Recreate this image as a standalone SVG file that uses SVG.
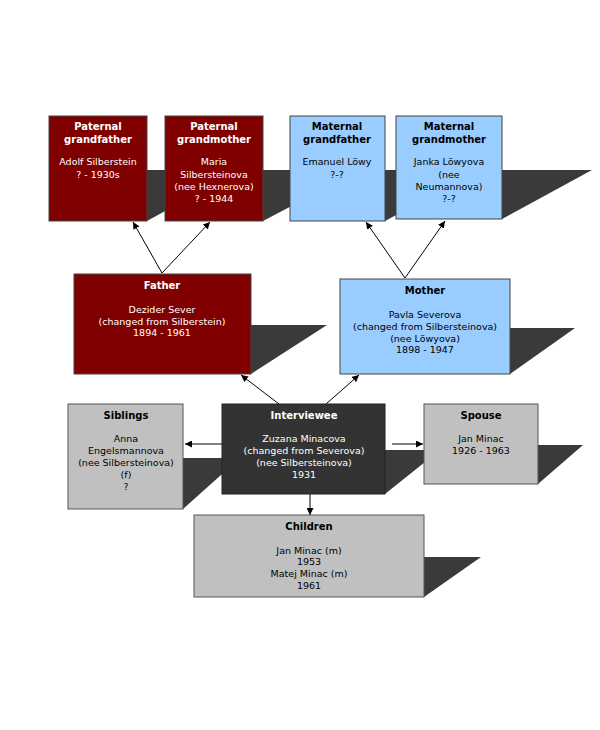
<svg xmlns="http://www.w3.org/2000/svg" width="600" height="730" viewBox="0 0 600 730">
<style>
text{font-family:"DejaVu Sans",Verdana,sans-serif;font-size:9.5px;text-anchor:middle}
.t{font-weight:bold;font-size:10px}
.w{fill:#fff}.k{fill:#000}
.red{fill:#800000;stroke:#444;stroke-width:1}
.blue{fill:#99ccff;stroke:#444;stroke-width:1}
.grey{fill:#c0c0c0;stroke:#555;stroke-width:1}
.dark{fill:#333;stroke:#222;stroke-width:1}
.sh{fill:#3a3a3a}
.c{stroke:#000;stroke-width:1;fill:none;marker-end:url(#a)}
</style>
<defs><marker id="a" viewBox="0 0 10 10" refX="10" refY="5" markerWidth="7" markerHeight="7" orient="auto"><path d="M0,0L10,5L0,10z" fill="#000"/></marker></defs>
<g id="shadows">
<polygon class="sh" points="147,170 240,170 147,221"/>
<polygon class="sh" points="263,170 360,170 263,221"/>
<polygon class="sh" points="385,170 480,170 385,221"/>
<polygon class="sh" points="502,170 592,170 502,219"/>
<polygon class="sh" points="251,325 327,325 251,374"/>
<polygon class="sh" points="510,328 575,328 510,374"/>
<polygon class="sh" points="183,458 240,458 183,509"/>
<polygon class="sh" points="385,450 440,450 385,494"/>
<polygon class="sh" points="538,445 583,445 538,484"/>
<polygon class="sh" points="424,557 481,557 424,597"/>
</g>
<g id="connectors">
<line class="c" x1="162" y1="273" x2="133" y2="222"/>
<line class="c" x1="162" y1="273" x2="210" y2="222"/>
<line class="c" x1="405" y1="278" x2="366" y2="222"/>
<line class="c" x1="405" y1="278" x2="445" y2="221"/>
<line class="c" x1="279" y1="404" x2="241" y2="375"/>
<line class="c" x1="326" y1="404" x2="359" y2="375"/>
<line class="c" x1="222" y1="444" x2="185" y2="444"/>
<line class="c" x1="392" y1="444" x2="423" y2="444"/>
<line class="c" x1="310" y1="494" x2="310" y2="515"/>
</g>
<g id="pgf"><rect class="red" x="49" y="116" width="98" height="105"/>
<text class="t w" x="98" y="130">Paternal</text><text class="t w" x="98" y="143">grandfather</text>
<text class="w" x="98" y="165">Adolf Silberstein</text><text class="w" x="98" y="178">? - 1930s</text></g>
<g id="pgm"><rect class="red" x="165" y="116" width="98" height="105"/>
<text class="t w" x="214" y="130">Paternal</text><text class="t w" x="214" y="143">grandmother</text>
<text class="w" x="214" y="165">Maria</text><text class="w" x="214" y="178">Silbersteinova</text><text class="w" x="214" y="190">(nee Hexnerova)</text><text class="w" x="214" y="202">? - 1944</text></g>
<g id="mgf"><rect class="blue" x="290" y="116" width="95" height="105"/>
<text class="t k" x="337" y="130">Maternal</text><text class="t k" x="337" y="143">grandfather</text>
<text class="k" x="337" y="165">Emanuel Löwy</text><text class="k" x="337" y="178">?-?</text></g>
<g id="mgm"><rect class="blue" x="396" y="116" width="106" height="103"/>
<text class="t k" x="449" y="130">Maternal</text><text class="t k" x="449" y="143">grandmother</text>
<text class="k" x="449" y="165">Janka Löwyova</text><text class="k" x="449" y="178">(nee</text><text class="k" x="449" y="190">Neumannova)</text><text class="k" x="449" y="202">?-?</text></g>
<g id="father"><rect class="red" x="74" y="274" width="177" height="100"/>
<text class="t w" x="162" y="289">Father</text>
<text class="w" x="162" y="313">Dezider Sever</text><text class="w" x="162" y="325">(changed from Silberstein)</text><text class="w" x="162" y="336">1894 - 1961</text></g>
<g id="mother"><rect class="blue" x="340" y="279" width="170" height="95"/>
<text class="t k" x="425" y="294">Mother</text>
<text class="k" x="425" y="318">Pavla Severova</text><text class="k" x="425" y="330">(changed from Silbersteinova)</text><text class="k" x="425" y="342">(nee Löwyova)</text><text class="k" x="425" y="353">1898 - 1947</text></g>
<g id="siblings"><rect class="grey" x="68" y="404" width="115" height="105"/>
<text class="t k" x="126" y="419">Siblings</text>
<text class="k" x="126" y="442">Anna</text><text class="k" x="126" y="454">Engelsmannova</text><text class="k" x="126" y="466">(nee Silbersteinova)</text><text class="k" x="126" y="478">(f)</text><text class="k" x="126" y="490">?</text></g>
<g id="interviewee"><rect class="dark" x="222" y="404" width="163" height="90"/>
<text class="t w" x="304" y="419">Interviewee</text>
<text class="w" x="304" y="442">Zuzana Minacova</text><text class="w" x="304" y="454">(changed from Severova)</text><text class="w" x="304" y="466">(nee Silbersteinova)</text><text class="w" x="304" y="478">1931</text></g>
<g id="spouse"><rect class="grey" x="424" y="404" width="114" height="80"/>
<text class="t k" x="481" y="419">Spouse</text>
<text class="k" x="481" y="442">Jan Minac</text><text class="k" x="481" y="454">1926 - 1963</text></g>
<g id="children"><rect class="grey" x="194" y="515" width="230" height="82"/>
<text class="t k" x="309" y="530">Children</text>
<text class="k" x="309" y="554">Jan Minac (m)</text><text class="k" x="309" y="565">1953</text><text class="k" x="309" y="577">Matej Minac (m)</text><text class="k" x="309" y="589">1961</text></g>
</svg>
